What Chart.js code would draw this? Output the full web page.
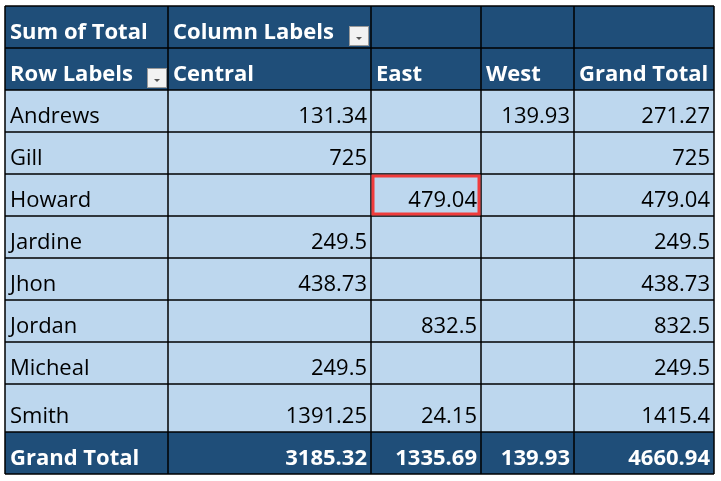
<!DOCTYPE html>
<html><head><meta charset="utf-8">
<script src="https://cdn.jsdelivr.net/npm/chart.js@4"></script>
<style>html,body{margin:0;padding:0;background:#fff}</style>
</head><body>
<canvas id="c" width="721" height="481"></canvas>
<script>
const rowLabels = ["Andrews","Gill","Howard","Jardine","Jhon","Jordan","Micheal","Smith"];
const central = ["131.34","725","","249.5","438.73","","249.5","1391.25"];
const east    = ["","","479.04","","","832.5","","24.15"];
const west    = ["139.93","","","","","","",""];
const grandTotal = ["271.27","725","479.04","249.5","438.73","832.5","249.5","1415.4"];
const totals = ["Grand Total","3185.32","1335.69","139.93","4660.94"];
const headers1 = ["Sum of Total","Column Labels","","",""];
const headers2 = ["Row Labels","Central","East","West","Grand Total"];

const colEdges = [5,168,371,481,574,714];
const rowEdges = [6,48,90,132,174,216,258,300,342,384,432,474];

const tablePlugin = {
  id:'table',
  afterDraw(chart){
    const ctx = chart.ctx, xs = chart.scales.x, ys = chart.scales.y;
    const X = v=>xs.getPixelForValue(v), Y = v=>ys.getPixelForValue(v);
    const rows = [headers1, headers2];
    rowLabels.forEach((r,i)=>rows.push([r,central[i],east[i],west[i],grandTotal[i]]));
    rows.push(totals);
    const dark = '#1f4e79', light = '#bdd7ee';
    rows.forEach((row,ri)=>{
      const y0=Y(rowEdges[ri]), y1=Y(rowEdges[ri+1]);
      const isHead = ri<2 || ri===rows.length-1;
      ctx.fillStyle = isHead?dark:light;
      ctx.fillRect(X(colEdges[0]),y0,X(colEdges[5])-X(colEdges[0]),y1-y0);
      row.forEach((t,ci)=>{
        const x0=X(colEdges[ci]), x1=X(colEdges[ci+1]);
        ctx.font = (isHead?'bold ':'')+'22px "Open Sans", sans-serif';
        ctx.fillStyle = isHead?'#fff':'#000';
        ctx.textBaseline='alphabetic';
        const by = y1-9;
        const left = ci===0 || ri<2;
        if(left){ctx.textAlign='left';ctx.fillText(t,x0+5,by);}
        else {ctx.textAlign='right';ctx.fillText(t,x1-4,by);}
      });
    });
    // dropdown buttons
    const btn=(bx,by)=>{
      ctx.fillStyle='#f2f2f2';ctx.fillRect(bx,by,20,20);
      ctx.strokeStyle='#999';ctx.lineWidth=1;ctx.strokeRect(bx+.5,by+.5,19,19);
      ctx.fillStyle='#555';ctx.beginPath();ctx.moveTo(bx+7,by+11);ctx.lineTo(bx+13,by+11);ctx.lineTo(bx+10,by+14);ctx.fill();
    };
    btn(X(349),Y(26)); btn(X(147),Y(68));
    // grid lines
    ctx.strokeStyle='#000';ctx.lineWidth=1.5;
    rowEdges.forEach(r=>{ctx.beginPath();ctx.moveTo(X(colEdges[0]),Y(r));ctx.lineTo(X(colEdges[5]),Y(r));ctx.stroke();});
    colEdges.forEach(c=>{ctx.beginPath();ctx.moveTo(X(c),Y(rowEdges[0]));ctx.lineTo(X(c),Y(rowEdges[rowEdges.length-1]));ctx.stroke();});
    // highlight Howard/East
    const hi = rowLabels.indexOf("Howard")+2;
    ctx.strokeStyle='#f03c3c';ctx.lineWidth=3;
    ctx.strokeRect(X(colEdges[2])+2,Y(rowEdges[hi])+2,X(colEdges[3])-X(colEdges[2])-4,Y(rowEdges[hi+1])-Y(rowEdges[hi])-4);
  }
};

new Chart(document.getElementById('c'),{
  type:'scatter',
  data:{datasets:[{data:[]}]},
  options:{
    responsive:false,animation:false,
    layout:{padding:0},
    plugins:{legend:{display:false},tooltip:{enabled:false}},
    scales:{
      x:{type:'linear',min:0,max:721,display:false},
      y:{type:'linear',min:0,max:481,reverse:true,display:false}
    }
  },
  plugins:[tablePlugin]
});
</script>
</body></html>
